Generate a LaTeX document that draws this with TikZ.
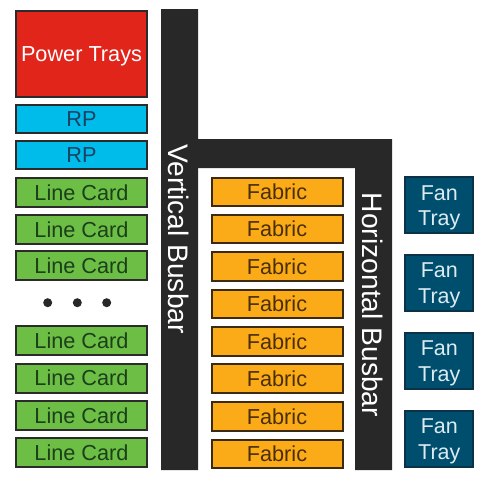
\documentclass[tikz,border=0pt]{standalone}
\usepackage{fontspec}
\setmainfont{Liberation Sans}
\definecolor{ptred}{HTML}{E1251B}
\definecolor{rpcyan}{HTML}{00BCEB}
\definecolor{rptext}{HTML}{1B4262}
\definecolor{lcgreen}{HTML}{6CBE45}
\definecolor{lctext}{HTML}{1C3F1C}
\definecolor{fborange}{HTML}{FBAB18}
\definecolor{fbtext}{HTML}{4A2F05}
\definecolor{fbedge}{HTML}{3B2A0F}
\definecolor{fanblue}{HTML}{004E6E}
\definecolor{fanedge}{HTML}{0B3247}
\definecolor{fantext}{HTML}{DCEBF2}
\definecolor{busdark}{HTML}{282828}
\definecolor{edgedark}{HTML}{2B2B2B}
\tikzset{
  card/.style={rectangle, draw=edgedark, line width=2pt, minimum width=131pt, inner sep=0pt,
    font=\fontsize{21.7}{24}\selectfont, text height=15.5pt, text depth=0pt},
  powerbox/.style={card, fill=ptred, text=white, minimum height=86pt},
  rpbox/.style={card, fill=rpcyan, text=rptext, minimum height=28pt},
  lcbox/.style={card, fill=lcgreen, text=lctext, minimum height=29pt},
  fabbox/.style={card, draw=fbedge, fill=fborange, text=fbtext, minimum height=28.5pt},
  fanbox/.style={rectangle, draw=fanedge, line width=2pt, fill=fanblue, text=fantext,
    minimum width=68pt, minimum height=56pt, inner sep=0pt, align=center,
    font=\fontsize{21.5}{25.7}\selectfont, text height=41.1pt, text depth=0pt},
  bustext/.style={text=white, rotate=-90, font=\fontsize{28.2}{32}\selectfont, inner sep=0pt,
    text height=20.2pt, text depth=0pt},
  dotmark/.style={circle, fill=busdark, minimum size=9pt, inner sep=0pt}
}
\begin{document}
\begin{tikzpicture}[x=1pt, y=-1pt]
\useasboundingbox (0,0) rectangle (477,480);
% busbars
\fill[busdark] (161,9) -- (198,9) -- (198,139) -- (392,139) -- (392,470) -- (355,470) -- (355,168) -- (198,168) -- (198,470) -- (161,470) -- cycle;
\node[bustext] (vbus) at (178.4,239) {Vertical Busbar};
\node[bustext] (hbus) at (372.5,305) {Horizontal Busbar};
% left column
\node[powerbox] (pt) at (81.5,53.8) {Power Trays};
\node[rpbox] (rp1) at (81.5,119) {RP};
\node[rpbox] (rp2) at (81.5,155) {RP};
\node[lcbox] (lc1) at (81.5,192.3) {Line Card};
\node[lcbox] (lc2) at (81.5,229.6) {Line Card};
\node[lcbox] (lc3) at (81.5,265.5) {Line Card};
\node[dotmark] (d1) at (47.7,302.7) {};
\node[dotmark] (d2) at (77.3,302.7) {};
\node[dotmark] (d3) at (106.7,302.7) {};
\node[lcbox] (lc4) at (81.5,340.5) {Line Card};
\node[lcbox] (lc5) at (81.5,378.2) {Line Card};
\node[lcbox] (lc6) at (81.5,415.4) {Line Card};
\node[lcbox] (lc7) at (81.5,452.7) {Line Card};
% fabrics
\node[fabbox] (f1) at (277,192) {Fabric};
\node[fabbox] (f2) at (277,229) {Fabric};
\node[fabbox] (f3) at (277,266.5) {Fabric};
\node[fabbox] (f4) at (277,304) {Fabric};
\node[fabbox] (f5) at (277,341.7) {Fabric};
\node[fabbox] (f6) at (277,378.5) {Fabric};
\node[fabbox] (f7) at (277,416.5) {Fabric};
\node[fabbox] (f8) at (277,454.2) {Fabric};
% fan trays
\node[fanbox] (ft1) at (439.3,205.3) {Fan\\Tray};
\node[fanbox] (ft2) at (439.3,283) {Fan\\Tray};
\node[fanbox] (ft3) at (439.3,361) {Fan\\Tray};
\node[fanbox] (ft4) at (439.3,438.8) {Fan\\Tray};
\end{tikzpicture}
\end{document}
